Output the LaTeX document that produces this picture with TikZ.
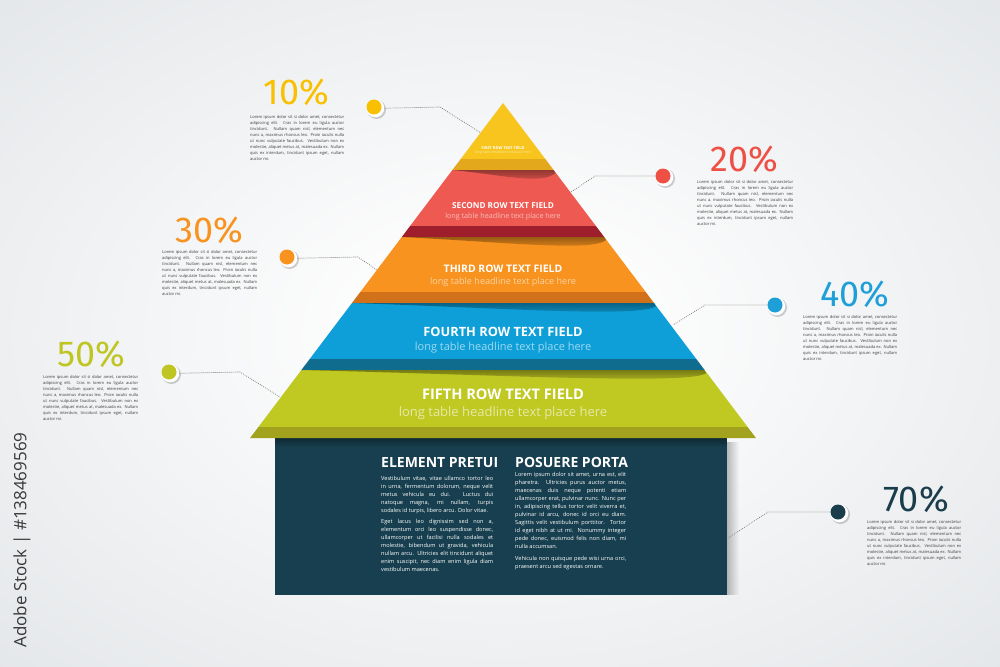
\documentclass[tikz,border=0pt]{standalone}
\usepackage{fontspec}
\setmainfont{Open Sans}
\newfontfamily\pctfont{Fira Sans}
\usetikzlibrary{fadings}
\hyphenpenalty=10000
\definecolor{cyel}{HTML}{F7C51E}
\definecolor{cyeld}{HTML}{E3A81B}
\definecolor{cred}{HTML}{EE5A52}
\definecolor{credd}{HTML}{9E1F2B}
\definecolor{corg}{HTML}{F7931E}
\definecolor{corgd}{HTML}{D1711A}
\definecolor{cblu}{HTML}{0E9FD8}
\definecolor{cblud}{HTML}{106C8E}
\definecolor{cgrn}{HTML}{C0C822}
\definecolor{cgrnd}{HTML}{A3A21F}
\definecolor{cdark}{HTML}{173F4F}
\definecolor{pyel}{HTML}{F9C000}
\definecolor{pred}{HTML}{EE5045}
\definecolor{porg}{HTML}{F7931E}
\definecolor{pblu}{HTML}{1E9FD8}
\definecolor{pgrn}{HTML}{BFC623}
\definecolor{pdark}{HTML}{1A3D4C}
\definecolor{bgout}{HTML}{D8DCE0}
\pgfdeclareradialshading{bgshade}{\pgfpointorigin}{color(0bp)=(white); color(4bp)=(white); color(50bp)=(bgout)}
\newcommand\smalllorem{Lorem ipsum dolor sit si dolor amet, consectetur\linebreak adipiscing elit. Cras in lorem eu ligula auctor\linebreak tincidunt. Nullam quam nisl, elementum nec\linebreak nunc a, maximus rhoncus leo. Proin iaculis nulla\linebreak ut nunc vulputate faucibus. Vestibulum non ex\linebreak molestie, aliquet metus at, malesuada ex. Nullam\linebreak quis ex interdum, tincidunt ipsum eget, nullam\linebreak auctor mi.}
\newcommand\bandshadow[3]{%
  \fill[black, opacity=0.38, path fading=south] (#1,#3) -- (#2,#3) -- ({#2+2},{#3+3}) .. controls ({#2-12},{#3+15}) and ({#1+0.5*(#2-#1)},{#3+5}) .. (#1,#3) -- cycle;}
\tikzset{
  lorem/.style={anchor=north west, inner sep=0pt, text width=#1, align=justify, font=\fontsize{4.05}{6}\selectfont, text=black!75},
  pct/.style={anchor=base, inner sep=0pt, font=\pctfont\fontsize{36}{36}\selectfont},
  conn/.style={draw=black!55, line width=0.7pt, dash pattern=on 0.8pt off 1.2pt},
  dotc/.style={circle, fill=#1, minimum size=15pt, inner sep=0pt},
  dotw/.style={circle, fill=white, minimum size=18pt, inner sep=0pt},
  dotsh/.style={circle, fill=black, opacity=0.18, minimum size=19pt, inner sep=0pt},
  bandtitle/.style={text=white, inner sep=0pt, font=\bfseries\fontsize{#1}{#1}\selectfont},
  bandsub/.style={text=white, text opacity=0.6, inner sep=0pt, font=\fontsize{#1}{#1}\selectfont},
  boxhead/.style={anchor=base west, inner sep=0pt, text=white, font=\bfseries\fontsize{14}{14}\selectfont},
  boxtext/.style={anchor=north west, inner sep=0pt, text=white, text width=#1, align=justify, font=\fontsize{5.6}{8}\selectfont},
}
\begin{document}
\begin{tikzpicture}[x=1pt,y=-1pt]
\useasboundingbox (0,0) rectangle (1000,666);
\shade[shading=bgshade] (0,0) rectangle (1000,666);

% dark box
\fill[black, opacity=0.25, path fading=east] (727,442) rectangle (739,595);
\fill[cdark] (275,438) rectangle (727,595);
\fill[black, opacity=0.35, path fading=south] (275,438) rectangle (727,447);

% band 1
\fill[cyel] (503,103) -- (545.3,159) -- (460.7,159) -- cycle;
\fill[cyeld] (460.7,159) -- (545.3,159) -- (553.6,170) -- (452.4,170) -- cycle;
% band 2
\fill[cred] (452.4,170) -- (553.6,170) -- (595.9,226) -- (410.1,226) -- cycle;
\fill[credd] (410.1,226) -- (595.9,226) -- (604.2,237) -- (401.8,237) -- cycle;
\bandshadow{452.4}{553.6}{170}
% band 3
\fill[corg] (401.8,237) -- (604.2,237) -- (645.7,292) -- (360.3,292) -- cycle;
\fill[corgd] (360.3,292) -- (645.7,292) -- (654,303) -- (352,303) -- cycle;
\bandshadow{401.8}{604.2}{237}
% band 4
\fill[cblu] (352,303) -- (654,303) -- (696.3,359) -- (309.7,359) -- cycle;
\fill[cblud] (309.7,359) -- (696.3,359) -- (704.6,370) -- (301.4,370) -- cycle;
\bandshadow{352}{654}{303}
% band 5
\fill[cgrn] (301.4,370) -- (704.6,370) -- (747.6,427) -- (258.4,427) -- cycle;
\fill[cgrnd] (258.4,427) -- (747.6,427) -- (755.9,438) -- (250.1,438) -- cycle;
\bandshadow{301.4}{704.6}{370}

% band texts
\node[bandtitle=3.9] (t1) at (503,147.7) {FIRST ROW TEXT FIELD};
\node[bandsub=3.5] (s1) at (503,153) {long table headline text place here};
\node[bandtitle=8.2] (t2) at (503,206) {SECOND ROW TEXT FIELD};
\node[bandsub=7.2] (s2) at (503,216.5) {long table headline text place here};
\node[bandtitle=10.4] (t3) at (503,268.3) {THIRD ROW TEXT FIELD};
\node[bandsub=9.1] (s3) at (503,282) {long table headline text place here};
\node[bandtitle=12.8] (t4) at (503,331.7) {FOURTH ROW TEXT FIELD};
\node[bandsub=11] (s4) at (503,347.5) {long table headline text place here};
\node[bandtitle=14.6] (t5) at (503,394.3) {FIFTH ROW TEXT FIELD};
\node[bandsub=13] (s5) at (503,413.5) {long table headline text place here};

% box texts
\node[boxhead] (h1) at (381,467) {ELEMENT PRETUI};
\node[boxhead] (h2) at (515,467) {POSUERE PORTA};
\node[boxtext=112pt] (b1) at (381,476) {Vestibulum vitae, vitae ullamco tortor leo\linebreak in urna, fermentum dolorum, neque velit\linebreak metus vehicula eu dui. Luctus dui\linebreak natoque magna, mi nullam, turpis\linebreak sodales id turpis, libero arcu. Dolor vitae.\par\vskip3.5pt
Eget lacus leo dignissim sed non a,\linebreak elementum orci leo suspendisse donec,\linebreak ullamcorper ut facilisi nulla sodales et\linebreak molestie, bibendum ut gravida, vehicula\linebreak nullam arcu. Ultricies elit tincidunt aliquet\linebreak enim suscipit, nec diam enim ligula diam\linebreak vestibulum maecenas.};
\node[boxtext=111pt] (b2) at (515,472.5) {Lorem ipsum dolor sit amet, urna est, elit\linebreak pharetra. Ultricies purus auctor metus,\linebreak maecenas duis neque potenti etiam\linebreak ullamcorper erat, pulvinar nunc. Nunc per\linebreak in, adipiscing tellus tortor velit viverra et,\linebreak pulvinar id arcu, donec id orci eu diam.\linebreak Sagittis velit vestibulum porttitor. Tortor\linebreak id eget nibh at ut mi. Nonummy integer\linebreak pede donec, euismod felis non diam, mi\linebreak nulla accumsan.\par\vskip3.5pt
Vehicula non quisque pede wisi urna orci,\linebreak praesent arcu sed egestas ornare.};

% percent labels
\node[pct, text=pyel] (p10) at (296.5,105) {10\%};
\node[pct, text=pred] (p20) at (744,171.7) {20\%};
\node[pct, text=porg] (p30) at (209,242) {30\%};
\node[pct, text=pblu] (p40) at (855,306.7) {40\%};
\node[pct, text=pgrn] (p50) at (91,366.7) {50\%};
\node[pct, text=pdark] (p70) at (916,511.7) {70\%};

\node[lorem=94pt] (l10) at (250,115) {\smalllorem};
\node[lorem=96pt] (l20) at (697,180.5) {\smalllorem};
\node[lorem=95pt] (l30) at (162,250.5) {\smalllorem};
\node[lorem=94pt] (l40) at (803,315.5) {\smalllorem};
\node[lorem=95pt] (l50) at (43,375.5) {\smalllorem};
\node[lorem=94pt] (l70) at (867,520.5) {\smalllorem};

% connectors
\coordinate (c10a) at (440,107);
\coordinate (c10b) at (481,133);
\coordinate (c20a) at (595,176);
\coordinate (c20b) at (571,192);
\coordinate (c30a) at (358,257);
\coordinate (c30b) at (377,270);
\coordinate (c40a) at (705,305);
\coordinate (c40b) at (673,325);
\coordinate (c50a) at (240,372);
\coordinate (c50b) at (280,397);
\coordinate (c70a) at (768,512);
\coordinate (c70b) at (728,538);

\node[dotsh] (d10s) at (376.5,109.5) {};
\node[dotw] (d10w) at (375.3,108.3) {};
\node[dotc=pyel] (d10) at (374,107) {};
\node[dotsh] (d20s) at (665.5,178.5) {};
\node[dotw] (d20w) at (664.3,177.3) {};
\node[dotc=pred] (d20) at (663,176) {};
\node[dotsh] (d30s) at (289.5,259.5) {};
\node[dotw] (d30w) at (288.3,258.3) {};
\node[dotc=porg] (d30) at (287,257) {};
\node[dotsh] (d40s) at (777.5,307.5) {};
\node[dotw] (d40w) at (776.3,306.3) {};
\node[dotc=pblu] (d40) at (775,305) {};
\node[dotsh] (d50s) at (171.5,374.5) {};
\node[dotw] (d50w) at (170.3,373.3) {};
\node[dotc=pgrn] (d50) at (169,372) {};
\node[dotsh] (d70s) at (840.5,514.5) {};
\node[dotw] (d70w) at (839.3,513.3) {};
\node[dotc=pdark] (d70) at (838,512) {};

\draw[conn] (d10w.east) -- (c10a) -- (c10b);
\draw[conn] (d20.west) -- (c20a) -- (c20b);
\draw[conn] (d30w.east) -- (c30a) -- (c30b);
\draw[conn] (d40.west) -- (c40a) -- (c40b);
\draw[conn] (d50w.east) -- (c50a) -- (c50b);
\draw[conn] (d70.west) -- (c70a) -- (c70b);

% vertical stock label
\node[rotate=90, inner sep=0pt, text=black!78, font=\fontsize{17}{17}\selectfont] (wm) at (22,540) {Adobe Stock | \#138469569};
\end{tikzpicture}
\end{document}
